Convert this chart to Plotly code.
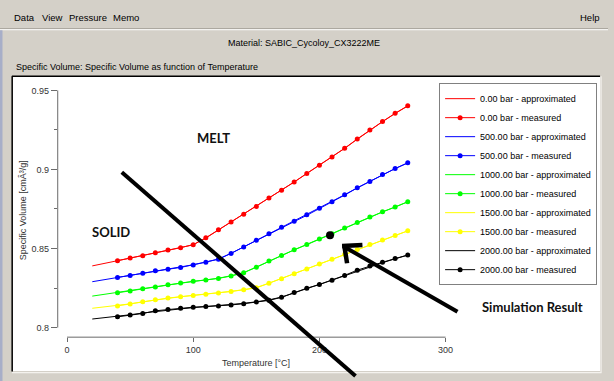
import plotly.graph_objects as go

# ---------------- data ----------------
pressures = ["0.00", "500.00", "1000.00", "1500.00", "2000.00"]
colors = ["#ff0000", "#0000ff", "#00ff00", "#ffff00", "#000000"]

temp_measured = [40, 50, 60, 70, 80, 90, 100, 110, 120, 130, 140, 150, 160,
                 170, 180, 190, 200, 210, 220, 230, 240, 250, 260, 270]
temp_approx = [20] + temp_measured

v_meas_0 = [0.8423, 0.8440, 0.8454, 0.8473, 0.8490, 0.8504, 0.8523, 0.8568,
            0.8618, 0.8668, 0.8716, 0.8766, 0.8819, 0.8868, 0.8920, 0.8975,
            0.9027, 0.9078, 0.9134, 0.9193, 0.9250, 0.9303, 0.9355, 0.9403]
v_meas_500 = [0.8317, 0.8330, 0.8344, 0.8359, 0.8369, 0.8380, 0.8396, 0.8413,
              0.8432, 0.8469, 0.8510, 0.8552, 0.8593, 0.8635, 0.8672, 0.8714,
              0.8755, 0.8796, 0.8840, 0.8884, 0.8924, 0.8968, 0.9006, 0.9042]
v_meas_1000 = [0.8220, 0.8232, 0.8245, 0.8257, 0.8270, 0.8282, 0.8293, 0.8301,
               0.8311, 0.8326, 0.8346, 0.8382, 0.8421, 0.8456, 0.8492, 0.8525,
               0.8560, 0.8593, 0.8629, 0.8664, 0.8699, 0.8732, 0.8763, 0.8796]
v_meas_1500 = [0.8137, 0.8149, 0.8164, 0.8176, 0.8187, 0.8195, 0.8203, 0.8210,
               0.8218, 0.8228, 0.8239, 0.8251, 0.8280, 0.8309, 0.8340, 0.8371,
               0.8402, 0.8432, 0.8463, 0.8494, 0.8525, 0.8554, 0.8583, 0.8612]
v_meas_2000 = [0.8068, 0.8079, 0.8089, 0.8106, 0.8114, 0.8122, 0.8129, 0.8133,
               0.8137, 0.8143, 0.8151, 0.8162, 0.8172, 0.8191, 0.8222, 0.8249,
               0.8272, 0.8299, 0.8330, 0.8363, 0.8390, 0.8413, 0.8436, 0.8459]

v_approx_0 = [0.8390, 0.8422, 0.8439, 0.8455, 0.8472, 0.8489, 0.8505, 0.8525,
              0.8566, 0.8617, 0.8667, 0.8717, 0.8767, 0.8818, 0.8869, 0.8921,
              0.8974, 0.9026, 0.9079, 0.9133, 0.9191, 0.9249, 0.9302, 0.9354, 0.9401]
v_approx_500 = [0.8290, 0.8316, 0.8330, 0.8345, 0.8358, 0.8370, 0.8382, 0.8397,
                0.8414, 0.8434, 0.8470, 0.8511, 0.8551, 0.8592, 0.8633, 0.8670,
                0.8710, 0.8751, 0.8792, 0.8838, 0.8883, 0.8925, 0.8967, 0.9005, 0.9041]
v_approx_1000 = [0.8199, 0.8221, 0.8233, 0.8245, 0.8258, 0.8270, 0.8281, 0.8292,
                 0.8302, 0.8312, 0.8328, 0.8348, 0.8382, 0.8420, 0.8455, 0.8491,
                 0.8524, 0.8559, 0.8592, 0.8628, 0.8663, 0.8698, 0.8731, 0.8762, 0.8795]
v_approx_1500 = [0.8122, 0.8138, 0.8150, 0.8163, 0.8175, 0.8186, 0.8195, 0.8204,
                 0.8211, 0.8219, 0.8229, 0.8240, 0.8253, 0.8281, 0.8310, 0.8340,
                 0.8370, 0.8401, 0.8431, 0.8462, 0.8493, 0.8524, 0.8553, 0.8582, 0.8611]
v_approx_2000 = [0.8054, 0.8070, 0.8081, 0.8092, 0.8102, 0.8110, 0.8118, 0.8126,
                 0.8132, 0.8138, 0.8145, 0.8153, 0.8163, 0.8175, 0.8193, 0.8221,
                 0.8248, 0.8273, 0.8300, 0.8328, 0.8356, 0.8384, 0.8410, 0.8435, 0.8458]

highlight_T = [208.4]
highlight_V = [0.8584]

measured = [v_meas_0, v_meas_500, v_meas_1000, v_meas_1500, v_meas_2000]
approx = [v_approx_0, v_approx_500, v_approx_1000, v_approx_1500, v_approx_2000]

x_ticks = [0, 100, 200, 300]
y_ticks = [0.8, 0.85, 0.9, 0.95]

# ---------------- geometry helpers (pixel -> paper) ----------------
W, H = 614, 381
def px(x):
    return x / W
def py(y):
    return 1 - y / H

FONT = "Liberation Sans, Arial, sans-serif"

fig = go.Figure()
for p, c, va, vm in zip(pressures, colors, approx, measured):
    fig.add_trace(go.Scatter(
        x=temp_approx, y=va, mode="lines", name=f"{p} bar - approximated",
        line=dict(color=c, width=1)))
    fig.add_trace(go.Scatter(
        x=temp_measured, y=vm, mode="lines+markers", name=f"{p} bar - measured",
        line=dict(color=c, width=1), marker=dict(color=c, size=5)))

fig.add_trace(go.Scatter(x=highlight_T, y=highlight_V, mode="markers",
                         marker=dict(color="#000000", size=8), showlegend=False,
                         hoverinfo="skip"))

# plot area geometry (pixels)
left_px, right_px, top_px, bottom_px = 58.3, 452.0, 87.3, 336.7
x0_px, x300_px = 67.7, 450.0
xs = (x300_px - x0_px) / 300.0
xmin = -(x0_px - left_px) / xs
xmax = 300 + (right_px - x300_px) / xs
v80_px, v95_px = 327.0, 87.3
ys = (v80_px - v95_px) / 0.15
ymin = 0.8 - (bottom_px - v80_px) / ys

axis_col = "#6a6a6a"
fig.update_xaxes(domain=[px(left_px), px(right_px)], range=[xmin, xmax],
                 tickvals=x_ticks, ticks="outside", ticklen=4, tickcolor=axis_col,
                 showgrid=False, zeroline=False, showline=False,
                 tickfont=dict(family=FONT, size=9, color="#333333"))
fig.update_yaxes(domain=[py(bottom_px), py(top_px - 1)], range=[ymin, 0.95 + 1 / ys],
                 tickvals=y_ticks, ticktext=["0.8", "0.85", "0.9", "0.95"],
                 ticks="outside", ticklen=6, tickcolor=axis_col,
                 minor=dict(tickvals=[0.825, 0.875, 0.925], ticks="outside",
                            ticklen=3, tickcolor=axis_col),
                 showgrid=False, zeroline=False, showline=False,
                 tickfont=dict(family=FONT, size=9, color="#333333"))

shapes = []
# menu bar separator
shapes.append(dict(type="line", xref="paper", yref="paper", x0=0, x1=1,
                   y0=py(25), y1=py(25), line=dict(color="#a09c94", width=1)))
shapes.append(dict(type="line", xref="paper", yref="paper", x0=0, x1=1,
                   y0=py(26), y1=py(26), line=dict(color="#ffffff", width=1)))
# left window frame
shapes.append(dict(type="rect", xref="paper", yref="paper", x0=0, x1=px(2.5),
                   y0=0, y1=py(26.5), fillcolor="#a7aec8", line=dict(width=0)))
# white chart panel
shapes.append(dict(type="rect", xref="paper", yref="paper", x0=px(13), x1=px(606),
                   y0=py(371), y1=py(73.5), fillcolor="#ffffff", line=dict(width=0),
                   layer="below"))
shapes.append(dict(type="line", xref="paper", yref="paper", x0=px(12), x1=px(606),
                   y0=py(73), y1=py(73), line=dict(color="#000000", width=1.5)))
shapes.append(dict(type="line", xref="paper", yref="paper", x0=px(12.3), x1=px(12.3),
                   y0=py(73), y1=py(371.5), line=dict(color="#000000", width=1.5)))
shapes.append(dict(type="line", xref="paper", yref="paper", x0=px(607), x1=px(607),
                   y0=py(73), y1=py(372.5), line=dict(color="#f4f2ee", width=1.2)))
shapes.append(dict(type="line", xref="paper", yref="paper", x0=px(12), x1=px(607.5),
                   y0=py(372.5), y1=py(372.5), line=dict(color="#f4f2ee", width=1.2)))
# detached axis lines
shapes.append(dict(type="line", xref="x", yref="paper", x0=0, x1=300,
                   y0=py(bottom_px), y1=py(bottom_px), line=dict(color=axis_col, width=1)))
shapes.append(dict(type="line", xref="paper", yref="y", x0=px(left_px), x1=px(left_px),
                   y0=0.8, y1=0.95, line=dict(color=axis_col, width=1)))
# hand-drawn markup lines
ink = dict(color="#000000", width=4)
shapes.append(dict(type="line", xref="paper", yref="paper", x0=px(123), y0=py(170),
                   x1=px(359), y1=py(376), line=ink))
shapes.append(dict(type="line", xref="paper", yref="paper", x0=px(462), y0=py(311),
                   x1=px(347), y1=py(245), line=ink))
shapes.append(dict(type="line", xref="paper", yref="paper", x0=px(345.5), y0=py(244.5),
                   x1=px(366), y1=py(243.5), line=dict(color="#000000", width=4.5)))
shapes.append(dict(type="line", xref="paper", yref="paper", x0=px(347.5), y0=py(243),
                   x1=px(350.5), y1=py(262), line=dict(color="#000000", width=4.5)))

ann = []
def text(x, y, s, size=9, anchor="left", family=FONT, bold=False, color="#000000"):
    ann.append(dict(xref="paper", yref="paper", x=px(x), y=py(y), text=f"<b>{s}</b>" if bold else s,
                    showarrow=False, xanchor=anchor, yanchor="middle",
                    font=dict(family=family, size=size, color=color)))

for label, x in [("Data", 12), ("View", 40), ("Pressure", 68), ("Memo", 112)]:
    text(x, 14, label, size=9.5)
text(608, 14, "Help", size=9.5, anchor="right")
text(307, 39, "Material: SABIC_Cycoloy_CX3222ME", anchor="center")
text(14, 64, "Specific Volume: Specific Volume as function of Temperature")

# axis titles
ann.append(dict(xref="x", yref="paper", x=150, y=py(363), text="Temperature [°C]",
                showarrow=False, xanchor="center", yanchor="middle",
                font=dict(family=FONT, size=9, color="#333333")))
ann.append(dict(xref="paper", yref="paper", x=px(22.7), y=py(208),
                text="Specific Volume [cmÂ³/g]", textangle=-90,
                showarrow=False, xanchor="center", yanchor="middle",
                font=dict(family=FONT, size=9, color="#333333")))

CAL = "Lato, Open Sans, sans-serif"
text(215.5, 135.5, "MELT", size=13, anchor="center", family=CAL, bold=True, color="#111111")
text(112.5, 230.5, "SOLID", size=13, anchor="center", family=CAL, bold=True, color="#111111")
text(537.5, 306.5, "Simulation Result", size=13, anchor="center", family=CAL, bold=True,
     color="#111111")

fig.update_layout(
    width=W, height=H, margin=dict(l=0, r=0, t=0, b=0),
    paper_bgcolor="#d4d0c8", plot_bgcolor="#ffffff",
    shapes=shapes, annotations=ann,
    showlegend=True,
    legend=dict(x=px(603), y=py(80), xanchor="right", yanchor="top",
                bgcolor="#ffffff", bordercolor="#808080", borderwidth=1,
                font=dict(family=FONT, size=9, color="#000000"),
                traceorder="normal", itemwidth=30),
    font=dict(family=FONT, size=9),
)

fig.write_html("out.html", config={"displayModeBar": False},
               post_script="document.body.style.margin='0';document.body.style.overflow='hidden';")
